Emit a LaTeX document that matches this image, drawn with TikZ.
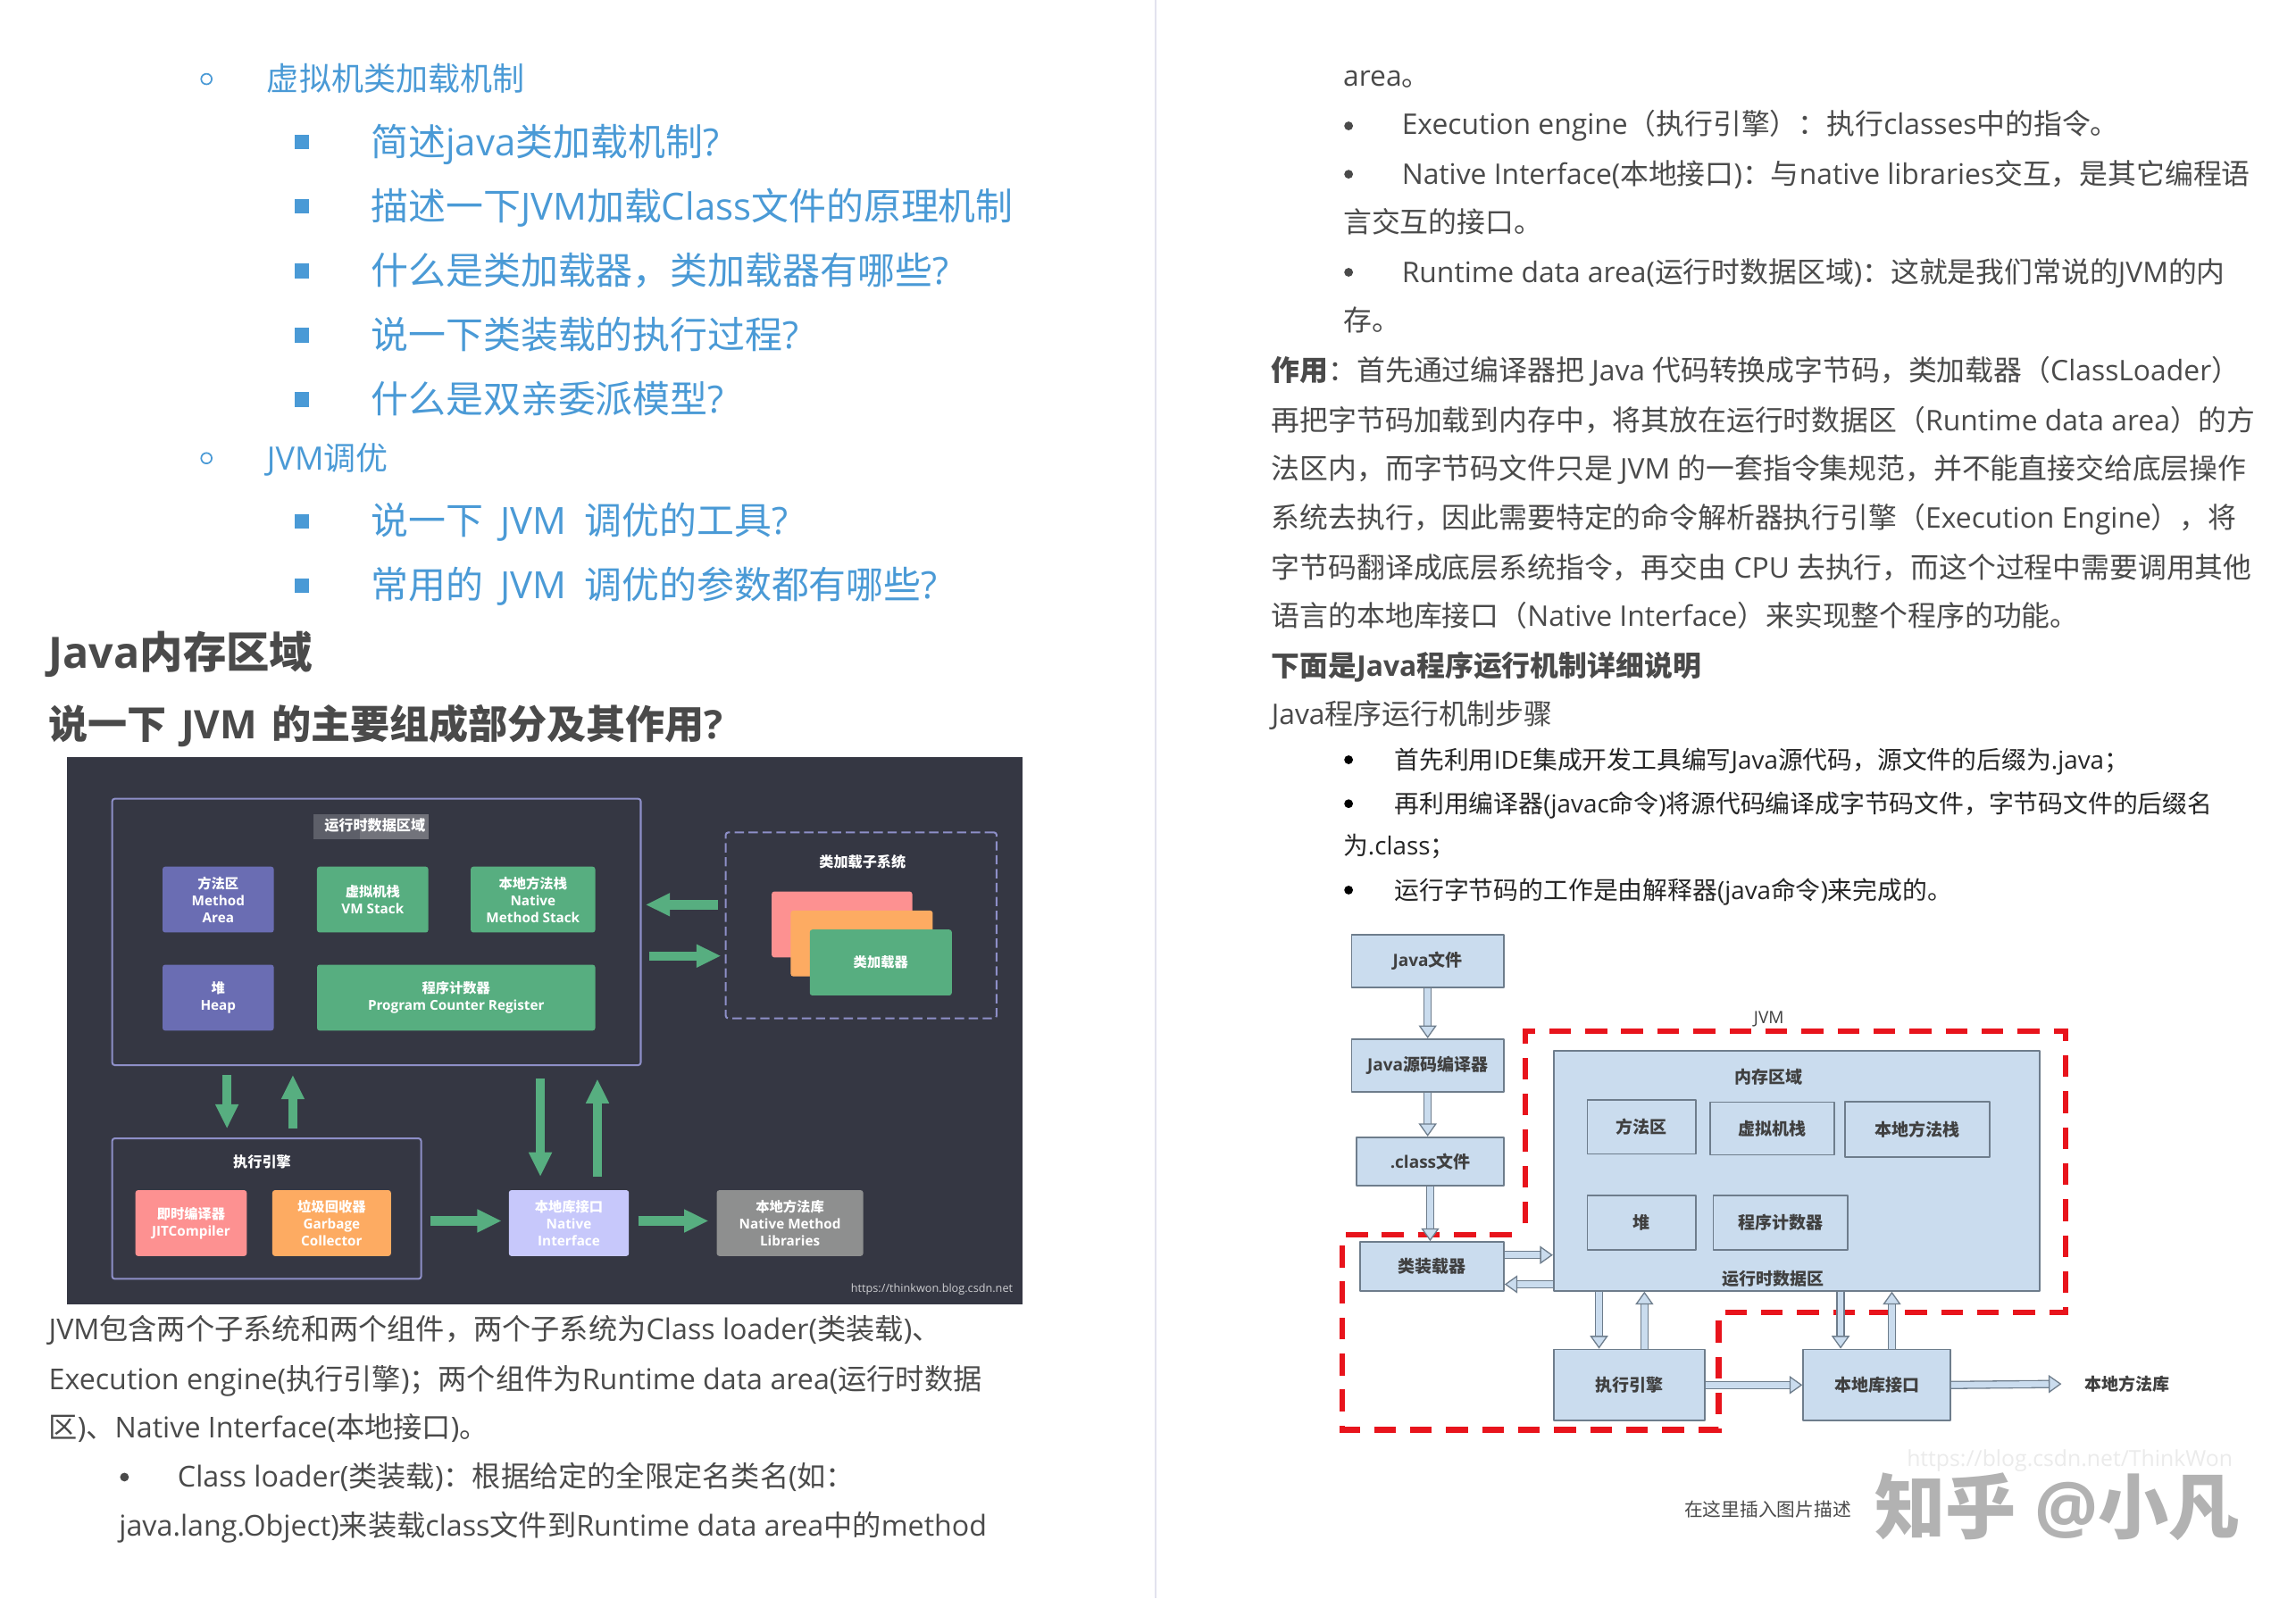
\documentclass[tikz,border=0pt]{standalone}
\usepackage{fontspec}
\usetikzlibrary{arrows.meta}
\setmainfont{Open Sans}
\newfontfamily\cjk{Noto Sans CJK SC}
%%Chinese characters switch to the CJK font by themselves
\newXeTeXintercharclass\cjkclass
\newcount\cjkchar
\cjkchar="3000
\loop\ifnum\cjkchar<"A000 \XeTeXcharclass\cjkchar=\cjkclass \advance\cjkchar 1 \repeat
\cjkchar="FF00
\loop\ifnum\cjkchar<"FFF0 \XeTeXcharclass\cjkchar=\cjkclass \advance\cjkchar 1 \repeat
\XeTeXinterchartoks 0 \cjkclass={\cjk}
\XeTeXinterchartoks 4095 \cjkclass={\cjk}
\XeTeXinterchartoks \cjkclass 0={\rmfamily}
\XeTeXinterchartoks \cjkclass 4095={\rmfamily}
\XeTeXinterchartokenstate=1
\definecolor{listblue}{HTML}{4A9AD6}
\definecolor{bodygray}{HTML}{4A4A4A}
\definecolor{darkbg}{HTML}{353743}
\definecolor{framepurple}{HTML}{8E8FC8}
\definecolor{boxpurple}{HTML}{6A6DB3}
\definecolor{boxgreen}{HTML}{57AE80}
\definecolor{boxpink}{HTML}{FD9191}
\definecolor{boxorange}{HTML}{FDAB62}
\definecolor{boxlav}{HTML}{C7C8FB}
\definecolor{boxgray}{HTML}{8E8F8F}
\definecolor{paleblue}{HTML}{CADCEE}
\definecolor{edgegray}{HTML}{6E7D8C}
\definecolor{jvmred}{HTML}{E8141C}
\tikzset{
	body/.style={anchor=base west,yshift=-4pt,inner sep=0pt,text=bodygray,font=\fontsize{11.05}{13}\selectfont},
	body left/.style={body,font=\fontsize{11.18}{13}\selectfont},
	step one/.style={anchor=base west,yshift=-3.5pt,inner sep=0pt,text=black!85,font=\fontsize{9.65}{12}\selectfont},
	list one/.style={anchor=base west,yshift=-4.5pt,inner sep=0pt,text=listblue,font=\fontsize{12.5}{14}\selectfont},
	list two/.style={anchor=base west,yshift=-5.2pt,inner sep=0pt,text=listblue,font=\fontsize{14.55}{16}\selectfont,execute at begin node={\spaceskip=6.8pt\relax}},
	head/.style={anchor=base west,yshift=-5.5pt,inner sep=0pt,text=bodygray,font=\bfseries\fontsize{15.3}{17}\selectfont,execute at begin node={\spaceskip=5.6pt\relax}},
	card/.style={rounded corners=1pt,inner sep=0pt,align=center,text=white,font=\bfseries\fontsize{5.3}{6.6}\selectfont},
	frame box/.style={draw=framepurple,line width=.7pt,rounded corners=1pt,inner sep=0pt},
	title/.style={inner sep=0pt,text=white,font=\bfseries\fontsize{5.6}{7}\selectfont},
	green arrow/.style={draw=boxgreen,line width=3.6pt,-{Triangle[width=8.4pt,length=9.5pt]}},
	blue box/.style={draw=edgegray,fill=paleblue,line width=.6pt,inner sep=0pt,text=black!75,font=\bfseries\fontsize{6.6}{8}\selectfont},
	plain label/.style={inner sep=0pt,text=black!75,font=\bfseries\fontsize{6.6}{8}\selectfont},
	hollow/.style={draw=edgegray,double=paleblue,double distance=2.3pt,line width=.45pt,
		-{Triangle[length=5pt,width=7pt,color=edgegray,fill=paleblue,line width=.45pt]}},
}
\begin{document}
\begin{tikzpicture}[x=.2mm,y=-.2mm,line join=round]
	\useasboundingbox (0,0) rectangle (1568,1091.7);
	\fill[white] (0,0) rectangle (1568,1091.7);
	\draw[blue!25!gray!18,line width=.8pt] (789,0)--(789,1091.7);
	%%Left column
	\foreach \y in {54,313}{
			\draw[listblue,line width=.6pt] (141,\y) circle(3.6);
		}
	\foreach \y in {97,141,185,229,273,356,400}{
			\fill[listblue] (201,\y-5) rectangle ++(10,10);
		}
	\foreach \n/\y/\t in {la/54/虚拟机类加载机制,lb/313/JVM调优}{
			\node[list one] (\n) at (182,\y) {\t};
		}
	\foreach \n/\y/\t in {lc/97/简述java类加载机制?,ld/141/描述一下JVM加载Class文件的原理机制,le/185/什么是类加载器，类加载器有哪些?,lf/229/说一下类装载的执行过程?,lg/273/什么是双亲委派模型?,lh/356/说一下 JVM 调优的工具?,li/400/常用的 JVM 调优的参数都有哪些?}{
			\node[list two] (\n) at (253,\y) {\t};
		}
	\node[head,font=\bfseries\fontsize{16.8}{19}\selectfont] (hone) at (33,447) {Java内存区域};
	\node[head] (htwo) at (33,495) {说一下 JVM 的主要组成部分及其作用?};
	\foreach \n/\x/\y/\t in {pa/33/908/JVM包含两个子系统和两个组件，两个子系统为Class loader(类装载)、,
		pb/33/942/Execution engine(执行引擎)；两个组件为Runtime data area(运行时数据,
		pc/33/975/区)、Native Interface(本地接口)。,
		pd/121/1009/Class loader(类装载)：根据给定的全限定名类名(如：,
		pe/81/1042/java.lang.Object)来装载class文件到Runtime data area中的method}{
			\node[body left] (\n) at (\x,\y) {\t};
		}
	%%Right column
	\foreach \n/\x/\y/\t in {ra/917/52/area。,
		rb/957/85/Execution engine（执行引擎）：执行classes中的指令。,
		rc/957/119/Native Interface(本地接口)：与native libraries交互，是其它编程语,
		rd/917/152/言交互的接口。,
		re/957/186/Runtime data area(运行时数据区域)：这就是我们常说的JVM的内,
		rf/917/219/存。,
		rg/868/253/{{\bfseries 作用}：首先通过编译器把 Java 代码转换成字节码，类加载器（ClassLoader）},
		rh/868/287/再把字节码加载到内存中，将其放在运行时数据区（Runtime data area）的方,
		ri/868/320/法区内，而字节码文件只是 JVM 的一套指令集规范，并不能直接交给底层操作,
		rj/868/354/系统去执行，因此需要特定的命令解析器执行引擎（Execution Engine），将,
		rk/868/388/字节码翻译成底层系统指令，再交由 CPU 去执行，而这个过程中需要调用其他,
		rl/868/421/语言的本地库接口（Native Interface）来实现整个程序的功能。,
		rm/868/455/{{\bfseries 下面是Java程序运行机制详细说明}},
		rn/868/488/Java程序运行机制步骤}{
			\node[body] (\n) at (\x,\y) {\t};
		}
	\foreach \n/\x/\y/\t in {sa/952/519/首先利用IDE集成开发工具编写Java源代码，源文件的后缀为.java；,
		sb/952/549/再利用编译器(javac命令)将源代码编译成字节码文件，字节码文件的后缀名,
		sc/917/578/为.class；,
		sd/952/608/运行字节码的工作是由解释器(java命令)来完成的。}{
			\node[step one] (\n) at (\x,\y) {\t};
		}
	\foreach \x/\y in {85/1009,921/86,921/119,921/186}{
			\fill[bodygray] (\x,\y) circle(3);
		}
	\foreach \y in {519,549,608}{
			\fill[black] (921,\y) circle(3);
		}
	%%Dark diagram
	\fill[darkbg] (46,517) rectangle (698,891);
	\path (76,545)coordinate(runA) (76,777)coordinate(exeA)
	(495,568)coordinate(subA)
	(0,618)coordinate(yl) (0,653)coordinate(yr) (0,834)coordinate(yb)
	(155,0)coordinate(xa) (200,0)coordinate(xb) (369,0)coordinate(xc) (408,0)coordinate(xd);
	\node[frame box,minimum width=361*.569pt,minimum height=182*.569pt,anchor=north west] (runtime) at (runA) {};
	\node[frame box,minimum width=211*.569pt,minimum height=96*.569pt,anchor=north west] (engine) at (exeA) {};
	\node[frame box,dash pattern=on 3.6pt off 1.8pt,minimum width=185*.569pt,minimum height=127*.569pt,anchor=north west] (loadsys) at (subA) {};
	\fill[white!20!darkbg] (214,556) rectangle (293,573);
	\fill[white!30!darkbg] (246,556) rectangle (293,573);
	\node[title] (runtitle) at (256,564) {运行时数据区域};
	\node[title] (subtitle) at (589,589) {类加载子系统};
	\node[title] (exetitle) at (179,794) {执行引擎};
	\foreach \n/\x/\y/\w/\h/\c/\t in {
		mth/149/614.5/76/45/boxpurple/{方法区\\Method\\Area},
		vmd/254.5/614.5/76/45/boxgreen/{虚拟机栈\\VM Stack},
		nms/364/614.5/85/45/boxgreen/{本地方法栈\\Native\\Method Stack},
		hpd/149/681.5/76/45/boxpurple/{堆\\Heap},
		pcr/311.5/681.5/190/45/boxgreen/{程序计数器\\Program Counter Register},
		cra/575/631.5/96/45/boxpink/{},
		crb/588.5/644.5/97/45/boxorange/{},
		crc/601.5/657.5/97/45/boxgreen/{类加载器},
		jit/130.5/835.5/76/45/boxpink/{即时编译器\\JITCompiler},
		gbc/226.5/835.5/81/45/boxorange/{垃圾回收器\\Garbage\\Collector},
		nif/388.5/835.5/82/45/boxlav/{本地库接口\\Native\\Interface},
		nlb/539.5/835.5/100/45/boxgray/{本地方法库\\Native Method\\Libraries}}{
			\node[card,fill=\c,minimum width=\w*.569pt,minimum height=\h*.569pt] (\n) at (\x,\y) {\t};
		}
	\draw[green arrow,shorten <=2.8pt,shorten >=1.5pt] (loadsys.west|-yl) -- (runtime.east|-yl);
	\draw[green arrow,shorten <=2.8pt,shorten >=1.5pt] (runtime.east|-yr) -- (loadsys.west|-yr);
	\draw[green arrow,shorten <=3.4pt,shorten >=3.4pt] (runtime.south-|xa) -- (engine.north-|xa);
	\draw[green arrow,shorten <=3.4pt,shorten >=3.4pt] (engine.north-|xb) -- (runtime.south-|xb);
	\draw[green arrow,shorten <=5pt,shorten >=5pt] (runtime.south-|xc) -- (nif.north-|xc);
	\draw[green arrow,shorten <=5pt,shorten >=5pt] (nif.north-|xd) -- (runtime.south-|xd);
	\draw[green arrow,shorten <=3.4pt,shorten >=2.6pt] (engine.east|-yb) -- (nif.west|-yb);
	\draw[green arrow,shorten <=3.4pt,shorten >=3pt] (nif.east|-yb) -- (nlb.west|-yb);
	\node[anchor=east,inner sep=0pt,text=white!75!darkbg,font=\fontsize{4.4}{5}\selectfont] (wmark) at (692,881) {https://thinkwon.blog.csdn.net};
	%%Blue diagram
	\begin{scope}[shift={(1,.8)}]
		\draw[jvmred,line width=2.2pt,dash pattern=on 8.5pt off 5.5pt,line join=miter]
		(1040.8,835)--(1040.8,703.6)--(1409.7,703.6)--(1409.7,895.8)--(1172.8,895.8)--(1172.8,976)--(915.7,976)--(915.7,842.8)--(1040.8,842.8);
		\foreach \n/\x/\y/\w/\h/\t in {
			java/974/655.7/104/36/Java文件,
			comp/974/727/104/36/Java源码编译器,
			clsf/975.7/792.5/100.5/33/.class文件,
			load/977/864.3/98/33.5/类装载器,
			mem/1226/799/332/164/{},
			mta/1120/769/74/37/方法区,
			vms/1209.3/770/84.6/36/虚拟机栈,
			nst/1308.5/770.7/99/37.5/本地方法栈,
			hep/1120/834.5/74/37/堆,
			pcn/1215/834.5/92/37/程序计数器,
			exec/1111.7/945.3/103.5/48.6/执行引擎,
			nati/1280.7/945.3/100.5/48.6/本地库接口}{
				\node[blue box,minimum width=\w*.569pt,minimum height=\h*.569pt] (\n) at (\x,\y) {\t};
			}
		\node[plain label] (memt) at (1207,735) {内存区域};
		\node[plain label] (rdat) at (1210,873) {运行时数据区};
		\node[plain label,font=\fontsize{6.6}{8}\selectfont] (jvm) at (1207,695.5) {JVM};
		\node[plain label] (libs) at (1452,944.4) {本地方法库};
		\path (0,856.5)coordinate(ya) (0,876.5)coordinate(yc) (1091,0)coordinate(xe) (1122,0)coordinate(xf) (1256,0)coordinate(xg) (1291,0)coordinate(xh);
		\draw[hollow] (java.south) -- (comp.north);
		\draw[hollow] (comp.south) -- (comp.south|-clsf.north);
		\draw[hollow] (clsf.south) -- (clsf.south|-load.north);
		\draw[hollow] (load.east|-ya) -- (mem.west|-ya);
		\draw[hollow] (mem.west|-yc) -- (load.east|-yc);
		\draw[hollow] (mem.south-|xe) -- (exec.north-|xe);
		\draw[hollow] (exec.north-|xf) -- (mem.south-|xf);
		\draw[hollow] (mem.south-|xg) -- (nati.north-|xg);
		\draw[hollow] (nati.north-|xh) -- (mem.south-|xh);
		\draw[hollow] (exec.east) -- (nati.west);
		\draw[hollow,shorten >=9pt] (nati.east) -- (libs.west);
	\end{scope}
	%%Foot of the page
	\node[anchor=east,inner sep=0pt,text=black!8,font=\fontsize{8.6}{11}\selectfont] (wmarkb) at (1525,998) {https://blog.csdn.net/ThinkWon};
	\node[anchor=west,inner sep=0pt,text=bodygray,font=\fontsize{7.2}{9}\selectfont] (caption) at (1150,1031) {在这里插入图片描述};
	\node[anchor=east,inner sep=0pt,text=black!30,font=\bfseries\fontsize{27.5}{30}\selectfont] (zhihu) at (1530,1029) {知乎 @小凡};
\end{tikzpicture}
\end{document}
